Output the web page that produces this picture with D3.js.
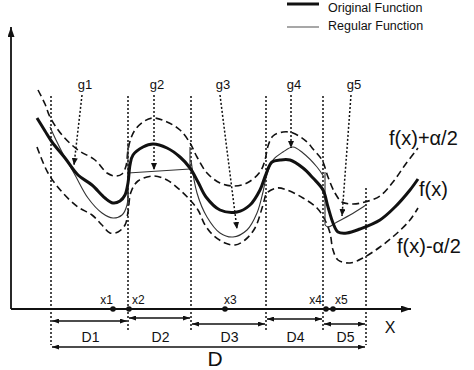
<!DOCTYPE html>
<html>
<head>
<meta charset="utf-8">
<script src="https://cdn.jsdelivr.net/npm/d3@7"></script>
<style>
  body { margin: 0; background: #fff; }
  text { font-family: "Liberation Sans", Arial, sans-serif; fill: #111; }
</style>
</head>
<body>
<svg id="chart"></svg>
<script>
// ---- data (x along the domain, y function value) ----
const original = [[26,191],[34,178],[41,167],[54,151],[67,134],[81,124],[94,111],[102,106],[109,108],[114,114],[117,126],[119,144],[122,154],[132,162],[142,165],[156,161],[169,152],[179,141],[187,127],[195,112],[209,99],[226,97],[239,104],[249,119],[255,135],[261,147],[269,149],[279,149],[292,141],[302,131],[312,119],[317,102],[322,86],[327,77],[336,76],[349,80],[369,89],[384,102],[399,119],[407,130]];

const upper = [[27,219],[34,205],[39,192],[51,174],[67,159],[84,149],[96,136],[104,133],[111,135],[115,143],[117,159],[120,171],[124,179],[132,187],[142,191],[156,187],[169,179],[179,166],[186,152],[196,136],[209,126],[222,123],[236,126],[249,137],[254,149],[257,163],[262,173],[272,177],[282,176],[296,167],[302,160],[311,149],[317,132],[324,116],[331,107],[342,105],[354,107],[369,113],[382,127],[394,144],[407,161]];

const lower = [[26,162],[37,136],[51,117],[67,102],[81,94],[91,84],[99,76],[107,77],[114,84],[117,97],[120,117],[127,128],[142,133],[156,129],[169,119],[179,109],[187,99],[194,84],[202,74],[214,66],[224,64],[234,69],[244,81],[252,104],[256,116],[266,121],[276,119],[292,111],[306,101],[314,89],[319,76],[322,59],[327,49],[339,46],[352,51],[369,62],[384,74],[399,89],[407,101]];

// regular (piecewise) function, one curve per piece
const regular = [
  [[39,182],[45,169],[51,157],[64,134],[77,111],[91,96],[102,91],[111,94],[116,104],[117,119]],
  [[117,136],[179,140]],
  [[180,149],[186,116],[196,92],[209,76],[222,72],[236,79],[246,96],[252,117],[255,131],[262,149],[272,157],[282,162],[292,156],[306,142],[313,132]],
  [[314,84],[317,82],[326,87],[339,94],[352,102],[355,104]]
];
const regularJumps = [[[117,104],[117,166]], [[179,139],[179,162]], [[314,137],[314,84]]];

const boundaries = [40, 117, 180, 255, 312, 355];
const subdomains = ["D1", "D2", "D3", "D4", "D5"];

const gLabels = ["g1", "g2", "g3", "g4", "g5"];
const gStart = [[71,214],[143,214],[209,214],[280,214],[340,214]];
const gEnd = [[63,144],[143,139],[226,80],[280,161],[331,93]];

const xPointLabels = ["x1", "x2", "x3", "x4", "x5"];
const xPoints = [102, 118, 214, 315, 322];

const legendItems = ["Original Function", "Regular Function"];

// ---- setup ----
const W = 474, H = 370;
const svg = d3.select("#chart").attr("width", W).attr("height", H);

const x = d3.scaleLinear().domain([0, 400]).range([11, 411]);
const y = d3.scaleLinear().domain([0, 280]).range([309, 29]);

const ink = "#111";

const defs = svg.append("defs");
function marker(id, len, wid) {
  defs.append("marker")
    .attr("id", id)
    .attr("viewBox", `0 0 ${len} ${wid}`)
    .attr("refX", len).attr("refY", wid / 2)
    .attr("markerWidth", len).attr("markerHeight", wid)
    .attr("markerUnits", "userSpaceOnUse")
    .attr("orient", "auto-start-reverse")
    .append("path")
    .attr("d", `M0,0L${len},${wid / 2}L0,${wid}Z`)
    .attr("fill", ink);
}
marker("axisHead", 10, 7);
marker("gHead", 7, 6);
marker("dHead", 7, 5);

const curve = d3.line().x(d => x(d[0])).y(d => y(d[1])).curve(d3.curveCatmullRom.alpha(0.5));
const straight = d3.line().x(d => x(d[0])).y(d => y(d[1]));

// ---- axes ----
svg.append("line")
  .attr("x1", x(0)).attr("y1", y(0)).attr("x2", x(0)).attr("y2", y(282))
  .attr("stroke", ink).attr("stroke-width", 1.8).attr("marker-end", "url(#axisHead)");
svg.append("line")
  .attr("x1", x(0)).attr("y1", y(0)).attr("x2", x(400)).attr("y2", y(0))
  .attr("stroke", ink).attr("stroke-width", 1.8).attr("marker-end", "url(#axisHead)");

// ---- sub-domain boundaries ----
svg.selectAll("line.bound")
  .data(boundaries)
  .enter()
  .append("line")
  .attr("class", "bound")
  .attr("x1", d => x(d)).attr("x2", d => x(d))
  .attr("y1", (d, i) => i === boundaries.length - 1 ? 188 : 96)
  .attr("y2", (d, i) => (i === 0 || i === boundaries.length - 1) ? 345 : 332)
  .attr("stroke", ink).attr("stroke-width", 1.5).attr("stroke-dasharray", "2,2");

// ---- curves ----
[upper, lower].forEach(c => {
  svg.append("path")
    .attr("d", curve(c))
    .attr("fill", "none").attr("stroke", ink)
    .attr("stroke-width", 1.6).attr("stroke-dasharray", "7,4");
});

regular.forEach(seg => {
  svg.append("path")
    .attr("d", curve(seg))
    .attr("fill", "none").attr("stroke", "#333").attr("stroke-width", 1.1);
});
regularJumps.forEach(seg => {
  svg.append("path")
    .attr("d", straight(seg))
    .attr("fill", "none").attr("stroke", "#333").attr("stroke-width", 1.1);
});

svg.append("path")
  .attr("d", curve(original))
  .attr("fill", "none").attr("stroke", ink).attr("stroke-width", 3);

// ---- g arrows ----
gLabels.forEach((lab, i) => {
  svg.append("line")
    .attr("x1", x(gStart[i][0])).attr("y1", y(gStart[i][1]))
    .attr("x2", x(gEnd[i][0])).attr("y2", y(gEnd[i][1]))
    .attr("stroke", ink).attr("stroke-width", 1.5).attr("stroke-dasharray", "2,2")
    .attr("marker-end", "url(#gHead)");
  svg.append("text")
    .attr("x", x(gStart[i][0]) + 3).attr("y", y(gStart[i][1]) - 6)
    .attr("text-anchor", "middle").attr("font-size", 13)
    .text(lab);
});

// ---- curve labels ----
const curveLabels = [
  { t: "f(x)+\u03b1/2", c: upper },
  { t: "f(x)", c: original },
  { t: "f(x)-\u03b1/2", c: lower }
];
const labelOffsets = [[-29, -3], [1, 17], [-21, 45]];
curveLabels.forEach((l, i) => {
  const last = l.c[l.c.length - 1];
  svg.append("text")
    .attr("x", x(last[0]) + labelOffsets[i][0])
    .attr("y", y(last[1]) + labelOffsets[i][1])
    .attr("font-size", 20)
    .text(l.t);
});

// ---- points on the x axis ----
const xAnchor = ["end", "start", "start", "end", "start"];
const xDx = [0, 3, -1, -4, 2];
svg.selectAll("circle.xp")
  .data(xPoints)
  .enter()
  .append("circle")
  .attr("class", "xp")
  .attr("cx", d => x(d)).attr("cy", y(0)).attr("r", 2.8)
  .attr("fill", ink);
svg.selectAll("text.xp")
  .data(xPoints)
  .enter()
  .append("text")
  .attr("class", "xp")
  .attr("x", (d, i) => x(d) + xDx[i])
  .attr("y", y(0) - 5)
  .attr("text-anchor", (d, i) => xAnchor[i])
  .attr("font-size", 12)
  .text((d, i) => xPointLabels[i]);

// ---- sub-domain spans ----
const spanY = [321, 318, 324, 319, 324];
subdomains.forEach((lab, i) => {
  const a = x(boundaries[i]), b = x(boundaries[i + 1]);
  svg.append("line")
    .attr("x1", a + 1).attr("x2", b - 1).attr("y1", spanY[i]).attr("y2", spanY[i])
    .attr("stroke", ink).attr("stroke-width", 1.5)
    .attr("marker-start", "url(#dHead)").attr("marker-end", "url(#dHead)");
  svg.append("text")
    .attr("x", (a + b) / 2 + 1).attr("y", 342)
    .attr("text-anchor", "middle").attr("font-size", 14)
    .text(lab);
});
svg.append("line")
  .attr("x1", x(boundaries[0]) + 1).attr("x2", x(boundaries[boundaries.length - 1]) - 1)
  .attr("y1", 347).attr("y2", 347)
  .attr("stroke", ink).attr("stroke-width", 1.5)
  .attr("marker-start", "url(#dHead)").attr("marker-end", "url(#dHead)");
svg.append("text")
  .attr("x", 215).attr("y", 366)
  .attr("text-anchor", "middle").attr("font-size", 21)
  .text("D");
svg.append("text")
  .attr("x", 390).attr("y", 333)
  .attr("text-anchor", "middle").attr("font-size", 16)
  .text("X");

// ---- legend ----
const legend = svg.append("g").attr("transform", "translate(287,0)");
legendItems.forEach((lab, i) => {
  legend.append("line")
    .attr("x1", 0).attr("x2", 32)
    .attr("y1", 4 + i * 23).attr("y2", 4 + i * 23)
    .attr("stroke", i === 0 ? ink : "#777")
    .attr("stroke-width", i === 0 ? 3 : 1.3);
  legend.append("text")
    .attr("x", 41).attr("y", 12 + i * 18)
    .attr("font-size", 12.5)
    .text(lab);
});
</script>
</body>
</html>
